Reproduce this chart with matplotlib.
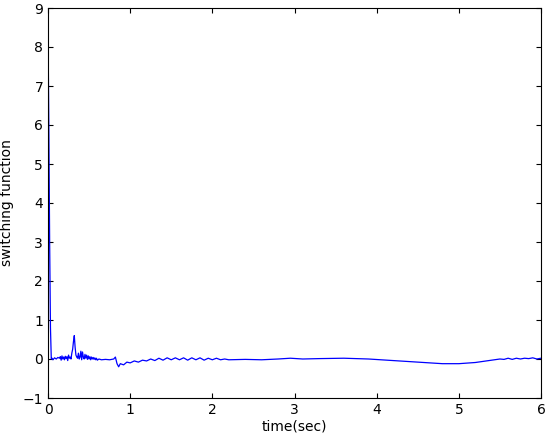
import matplotlib
matplotlib.use("Agg")
import matplotlib.pyplot as plt

t = [0.0, 0.01, 0.02, 0.03, 0.04, 0.05, 0.06, 0.08, 0.10, 0.12, 0.14, 0.15, 0.16, 0.17, 0.18, 0.19, 0.20, 0.21,
     0.22, 0.23, 0.24, 0.25, 0.26, 0.27, 0.28, 0.29, 0.30, 0.31, 0.32, 0.33, 0.34, 0.35, 0.36, 0.37, 0.38,
     0.39, 0.40, 0.41, 0.42, 0.43, 0.44, 0.45, 0.46, 0.47, 0.48, 0.49, 0.50, 0.51, 0.52, 0.53, 0.54, 0.55,
     0.56, 0.57, 0.58, 0.59, 0.60, 0.62, 0.65, 0.70, 0.75, 0.80, 0.82, 0.84, 0.86, 0.88,
     0.92, 0.96, 1.00, 1.05, 1.10, 1.15, 1.20, 1.25, 1.30, 1.35, 1.40, 1.45, 1.50, 1.55, 1.60,
     1.65, 1.70, 1.75, 1.80, 1.85, 1.90, 1.95, 2.00, 2.05, 2.10, 2.15, 2.20, 2.40, 2.60, 2.80, 2.95,
     3.10, 3.30, 3.60, 3.90, 4.20, 4.50, 4.80, 5.00, 5.20, 5.40, 5.50, 5.55, 5.60, 5.65, 5.70,
     5.75, 5.80, 5.85, 5.90, 5.95, 6.00]
s = [8.5, 6.0, 3.0, 0.8, 0.0, 0.02, -0.02, 0.03, 0.0, 0.04, 0.02, 0.06, -0.03, 0.08, 0.0, 0.05, -0.02, 0.07,
     0.01, 0.06, -0.04, 0.1, 0.02, 0.05, 0.0, 0.15, 0.25, 0.45, 0.6, 0.3, 0.1, 0.05, 0.02, 0.15, 0.0,
     0.05, 0.2, -0.02, 0.18, 0.05, 0.0, 0.12, 0.02, 0.1, -0.01, 0.08, 0.0, 0.06, -0.02, 0.05, 0.0, 0.04,
     -0.01, 0.03, -0.02, 0.02, -0.03, 0.0, -0.02, -0.01, -0.02, 0.0, 0.05, -0.12, -0.2, -0.12,
     -0.15, -0.08, -0.1, -0.05, -0.08, -0.03, -0.05, 0.0, -0.04, 0.02, -0.03, 0.03, -0.02, 0.03, -0.02,
     0.03, -0.03, 0.03, -0.02, 0.03, -0.03, 0.02, -0.02, 0.02, -0.02, 0.0, -0.02, -0.01, -0.02, 0.0, 0.02,
     0.0, 0.01, 0.02, 0.0, -0.04, -0.08, -0.12, -0.12, -0.09, -0.03, 0.0, -0.01, 0.02, -0.01, 0.02,
     0.0, 0.02, 0.01, 0.03, 0.0, 0.02]

fig = plt.figure(figsize=(5.5, 4.42), dpi=100)
ax = fig.add_axes([48/550, 44/442, 493/550, 390/442])
ax.plot(t, s, color="blue", linewidth=0.9)
ax.set_xlim(0, 6)
ax.set_ylim(-1, 9)
ax.set_xticks(range(0, 7))
ax.set_yticks(range(-1, 10))
ax.tick_params(direction="in", top=True, right=True, labelsize=10)
ax.set_xlabel("time(sec)", fontsize=10, labelpad=2)
ax.set_ylabel("switching function", fontsize=10, labelpad=6)
fig.savefig("out.png")
